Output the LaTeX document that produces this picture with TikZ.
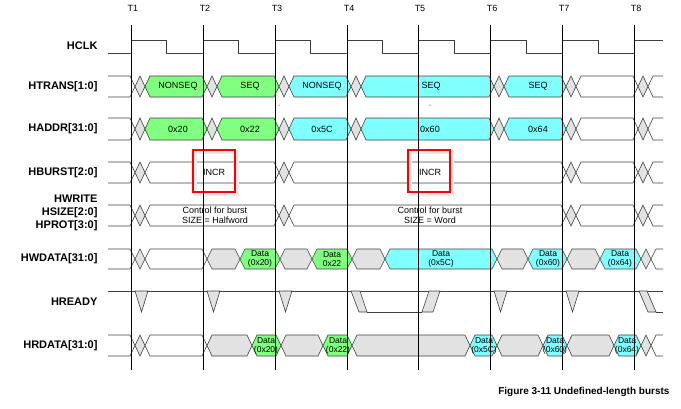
\documentclass[tikz,border=0pt]{standalone}
\usepackage{fontspec}
\setmainfont{Liberation Sans}
\definecolor{bgreen}{RGB}{128,255,128}
\definecolor{bcyan}{RGB}{128,255,255}
\definecolor{bgrey}{RGB}{226,226,226}
\begin{document}
\begin{tikzpicture}[x=1pt,y=-1pt,
  ln/.style={draw=black!75,line width=0.6pt},
  lab/.style={font=\bfseries\fontsize{11}{13}\selectfont,anchor=east,align=right},
  txt/.style={font=\fontsize{9}{10}\selectfont,align=center,inner sep=0pt},
  small/.style={font=\fontsize{8.5}{9}\selectfont,align=center,inner sep=0pt},
  tl/.style={font=\fontsize{9}{10}\selectfont},
  gr/.style={fill=bgreen},
  cy/.style={fill=bcyan},
  gy/.style={fill=bgrey},
  wh/.style={fill=white}]
\useasboundingbox (0,0) rectangle (681,408);
\newcommand\seg[5]{\filldraw[ln,#5] (#3,{(#1+#2)/2}) -- ({#3+5},#1) -- ({#4-5},#1) -- (#4,{(#1+#2)/2}) -- ({#4-5},#2) -- ({#3+5},#2) -- cycle;}
% clock
\draw[ln] (108,53) -- (131,53) -- (131,40) -- (166,40) -- (166,53) -- (203,53) -- (203,40) -- (238,40) -- (238,53) -- (275,53) -- (275,40) -- (310,40) -- (310,53) -- (347,53) -- (347,40) -- (382,40) -- (382,53) -- (418,53) -- (418,40) -- (454,40) -- (454,53) -- (490,53) -- (490,40) -- (526,40) -- (526,53) -- (562,53) -- (562,40) -- (598,40) -- (598,53) -- (634,53) -- (634,40) -- (663,40);
\begin{scope}
\clip (108,0) rectangle (663,408);
% HTRANS / HADDR
\foreach \t/\b in {76/97,118/140}{
\seg{\t}{\b}{95}{135}{wh}\seg{\t}{\b}{135}{145}{gy}
\seg{\t}{\b}{145}{207}{gr}\seg{\t}{\b}{207}{217}{gy}
\seg{\t}{\b}{217}{279}{gr}\seg{\t}{\b}{279}{289}{gy}
\seg{\t}{\b}{289}{351}{cy}\seg{\t}{\b}{351}{361}{gy}
\seg{\t}{\b}{361}{494}{cy}\seg{\t}{\b}{494}{504}{gy}
\seg{\t}{\b}{504}{566}{cy}\seg{\t}{\b}{566}{576}{gy}
\seg{\t}{\b}{576}{638}{wh}\seg{\t}{\b}{638}{648}{gy}
\seg{\t}{\b}{648}{680}{wh}}
% HBURST / control
\foreach \t/\b in {162/183,205/226}{
\seg{\t}{\b}{95}{135}{wh}\seg{\t}{\b}{135}{145}{gy}
\seg{\t}{\b}{145}{279}{wh}\seg{\t}{\b}{279}{289}{gy}
\seg{\t}{\b}{289}{566}{wh}\seg{\t}{\b}{566}{576}{gy}
\seg{\t}{\b}{576}{638}{wh}\seg{\t}{\b}{638}{648}{gy}
\seg{\t}{\b}{648}{680}{wh}}
% HWDATA
\def\t{249}\def\b{269}
\seg{\t}{\b}{95}{135}{wh}\seg{\t}{\b}{135}{145}{gy}
\seg{\t}{\b}{145}{207}{wh}\seg{\t}{\b}{207}{240}{gy}
\seg{\t}{\b}{240}{280}{gr}\seg{\t}{\b}{280}{312}{gy}
\seg{\t}{\b}{312}{352}{gr}\seg{\t}{\b}{352}{385}{gy}
\seg{\t}{\b}{385}{497}{cy}\seg{\t}{\b}{497}{528}{gy}
\seg{\t}{\b}{528}{567}{cy}\seg{\t}{\b}{567}{600}{gy}
\seg{\t}{\b}{600}{641}{cy}\seg{\t}{\b}{641}{651}{gy}
\seg{\t}{\b}{651}{680}{wh}
% HRDATA
\def\t{335}\def\b{356}
\seg{\t}{\b}{95}{135}{wh}\seg{\t}{\b}{135}{145}{gy}
\seg{\t}{\b}{145}{207}{wh}\seg{\t}{\b}{207}{252}{gy}
\seg{\t}{\b}{252}{281}{gr}\seg{\t}{\b}{281}{323}{gy}
\seg{\t}{\b}{323}{352}{gr}\seg{\t}{\b}{352}{470}{gy}
\seg{\t}{\b}{470}{497}{cy}\seg{\t}{\b}{497}{543}{gy}
\seg{\t}{\b}{543}{567}{cy}\seg{\t}{\b}{567}{614}{gy}
\seg{\t}{\b}{614}{641}{cy}\seg{\t}{\b}{641}{651}{gy}
\seg{\t}{\b}{651}{680}{wh}
% HREADY
\draw[ln] (108,291) -- (663,291);
\foreach \x in {131,203,275,490,562}{
  \filldraw[ln,gy] ({\x+4},291) -- ({\x+17},291) -- ({\x+10.5},312) -- cycle;}
\filldraw[ln,gy] (351,291) -- (360,291) -- (367,312) -- (359,312) -- cycle;
\draw[ln] (367,312) -- (422,312);
\filldraw[ln,gy] (422,312) -- (433,312) -- (440,291) -- (429,291) -- cycle;
\filldraw[ln,gy] (639,291) -- (647,291) -- (656,312) -- (648,312) -- cycle;
\draw[ln] (656,312) -- (663,312);
\end{scope}
% texts in buses
\node[txt] (n1) at (178,86.5) {NONSEQ};
\node[txt] (n2) at (250,86.5) {SEQ};
\node[txt] (n3) at (322,86.5) {NONSEQ};
\node[txt] (n4) at (431,86.5) {SEQ};
\node[txt] (n5) at (538,86.5) {SEQ};
\node[txt] (a1) at (178,129) {0x20};
\node[txt] (a2) at (250,129) {0x22};
\node[txt] (a3) at (322,129) {0x5C};
\node[txt] (a4) at (430,129) {0x60};
\node[txt] (a5) at (538,129) {0x64};
\node[txt] (b1) at (214,172.5) {INCR};
\node[txt] (b2) at (430,172.5) {INCR};
\node[txt] (c1) at (215,215.5) {Control for burst\\SIZE = Halfword};
\node[txt] (c2) at (430,215.5) {Control for burst\\SIZE = Word};
\node[small] (w1) at (260,259) {Data\\(0x20)};
\node[small] (w2) at (332,259) {Data\\0x22};
\node[small] (w3) at (441,259) {Data\\(0x5C)};
\node[small] (w4) at (548,259) {Data\\(0x60)};
\node[small] (w5) at (620,259) {Data\\(0x64)};
\node[small] (r1) at (266,345.5) {Data\\(0x20)};
\node[small] (r2) at (338,345.5) {Data\\(0x22)};
\node[small] (r3) at (484,345.5) {Data\\(0x5C)};
\node[small] (r4) at (555,345.5) {Data\\(0x60)};
\node[small] (r5) at (627,345.5) {Data\\(0x64)};
\fill (279,105) circle (0.5);
\fill (430,105) circle (0.5);
% red boxes
\foreach \x in {193,408}{
  \draw[black!8,line width=4pt] ({\x+2},152) rectangle ({\x+44},194);
  \draw[red,line width=1.6pt] (\x,150) rectangle ({\x+42},192);}
% T lines
\foreach \x/\n in {131/1,203/2,275/3,347/4,418/5,490/6,562/7,634/8}{
  \draw[black,line width=0.7pt] (\x,25) -- (\x,370);
  \node[tl] (T\n) at ({\x+2},8) {T\n};}
% labels
\node[lab] (l1) at (101,46) {HCLK};
\node[lab] (l2) at (101,86.5) {HTRANS[1:0]};
\node[lab] (l3) at (101,129) {HADDR[31:0]};
\node[lab] (l4) at (101,172.5) {HBURST[2:0]};
\node[lab] (l5) at (101,213) {HWRITE\\HSIZE[2:0]\\HPROT[3:0]};
\node[lab] (l6) at (101,259) {HWDATA[31:0]};
\node[lab] (l7) at (101,301.5) {HREADY};
\node[lab] (l8) at (101,345.5) {HRDATA[31:0]};
\node[font=\bfseries\fontsize{10}{12}\selectfont,anchor=east] (cap) at (673,392) {Figure 3-11 Undefined-length bursts};
\end{tikzpicture}
\end{document}
